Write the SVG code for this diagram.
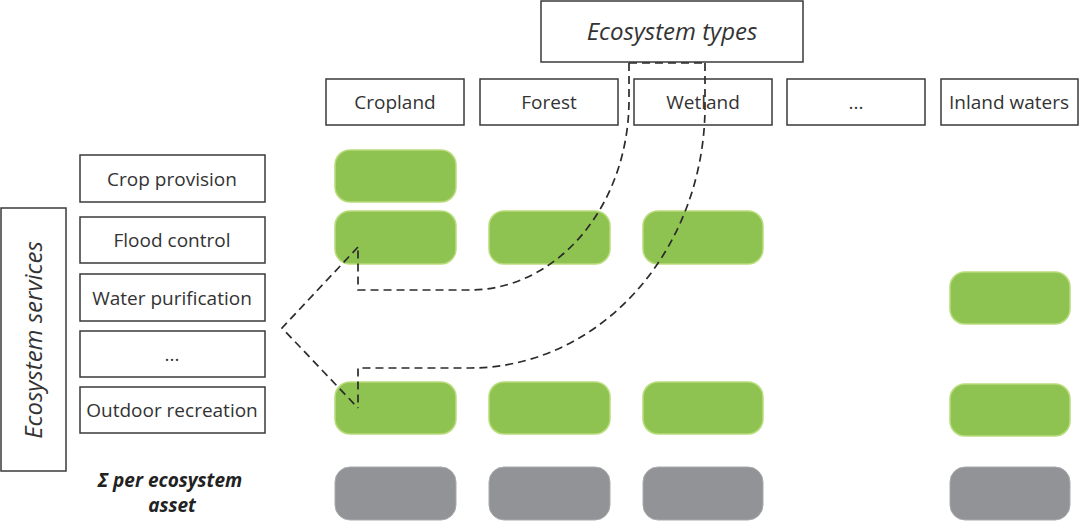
<svg xmlns="http://www.w3.org/2000/svg" width="1080" height="521" viewBox="0 0 1080 521">
<defs>
<style>
.box{fill:#fff;stroke:#3a3a3a;stroke-width:1.5}
.t{font-family:"Open Sans","Liberation Sans",sans-serif;font-size:19px;fill:#333;text-anchor:middle}
.ti{font-family:"Open Sans","Liberation Sans",sans-serif;font-size:24px;font-style:italic;fill:#333;text-anchor:middle}
.tb{font-family:"Open Sans","Liberation Sans",sans-serif;font-size:19px;font-style:italic;font-weight:bold;fill:#222;text-anchor:middle}
.g{fill:#8fc351;stroke:#b9dc7c;stroke-width:1.5}
.s{fill:#929396;stroke:#a9aaad;stroke-width:1}
.d{fill:none;stroke:#2b2b2b;stroke-width:1.7;stroke-dasharray:8 5}
</style>
</defs>
<rect width="1080" height="521" fill="#fff"/>

<g id="ecosystem-types">
<rect class="box" x="541" y="1" width="262" height="61"/>
<text class="ti" x="672" y="40">Ecosystem types</text>
</g>

<g id="col-cropland"><rect class="box" x="326" y="79" width="138" height="46"/><text class="t" x="395" y="109">Cropland</text></g>
<g id="col-forest"><rect class="box" x="480" y="79" width="138" height="46"/><text class="t" x="549" y="109">Forest</text></g>
<g id="col-wetland"><rect class="box" x="634" y="79" width="138" height="46"/><text class="t" x="703" y="109">Wetland</text></g>
<g id="col-more"><rect class="box" x="787" y="79" width="138" height="46"/><text class="t" x="856" y="109">...</text></g>
<g id="col-inland"><rect class="box" x="941" y="79" width="137" height="46"/><text class="t" x="1009" y="109">Inland waters</text></g>

<g id="ecosystem-services">
<rect class="box" x="1" y="208" width="65" height="263"/>
<text class="ti" transform="translate(42 340) rotate(-90)" x="0" y="0">Ecosystem services</text>
</g>

<g id="row-crop"><rect class="box" x="80" y="155" width="185" height="47"/><text class="t" x="172" y="186">Crop provision</text></g>
<g id="row-flood"><rect class="box" x="80" y="217" width="185" height="46"/><text class="t" x="172" y="247">Flood control</text></g>
<g id="row-water"><rect class="box" x="80" y="274" width="185" height="47"/><text class="t" x="172" y="305">Water purification</text></g>
<g id="row-more"><rect class="box" x="80" y="331" width="185" height="46"/><text class="t" x="172" y="361">...</text></g>
<g id="row-outdoor"><rect class="box" x="80" y="387" width="185" height="46"/><text class="t" x="172" y="417">Outdoor recreation</text></g>

<g id="row-sum">
<text class="tb" x="170" y="487">Σ per ecosystem</text>
<text class="tb" x="172" y="512">asset</text>
</g>

<g id="cells-green">
<rect class="g" x="335" y="150" width="121" height="52" rx="15"/>
<rect class="g" x="335" y="211" width="121" height="53" rx="15"/>
<rect class="g" x="489" y="211" width="121" height="53" rx="15"/>
<rect class="g" x="643" y="211" width="120" height="53" rx="15"/>
<rect class="g" x="950" y="272" width="120" height="52" rx="15"/>
<rect class="g" x="335" y="382" width="121" height="52" rx="15"/>
<rect class="g" x="489" y="382" width="121" height="52" rx="15"/>
<rect class="g" x="643" y="382" width="120" height="52" rx="15"/>
<rect class="g" x="950" y="384" width="120" height="52" rx="15"/>
</g>

<g id="cells-sum">
<rect class="s" x="335" y="467" width="121" height="53" rx="15"/>
<rect class="s" x="489" y="467" width="121" height="53" rx="15"/>
<rect class="s" x="643" y="467" width="120" height="53" rx="15"/>
<rect class="s" x="950" y="467" width="120" height="53" rx="15"/>
</g>

<g id="connectors">
<path class="d" d="M629,63 H705"/>
<path class="d" d="M629,63 V100 A159,190 0 0 1 470,290 H358 V248"/>
<path class="d" d="M705,63 V106 A235,262 0 0 1 470,368 H358 V408"/>
<path class="d" d="M358,247 L282,328 L358,408"/>
</g>
</svg>
